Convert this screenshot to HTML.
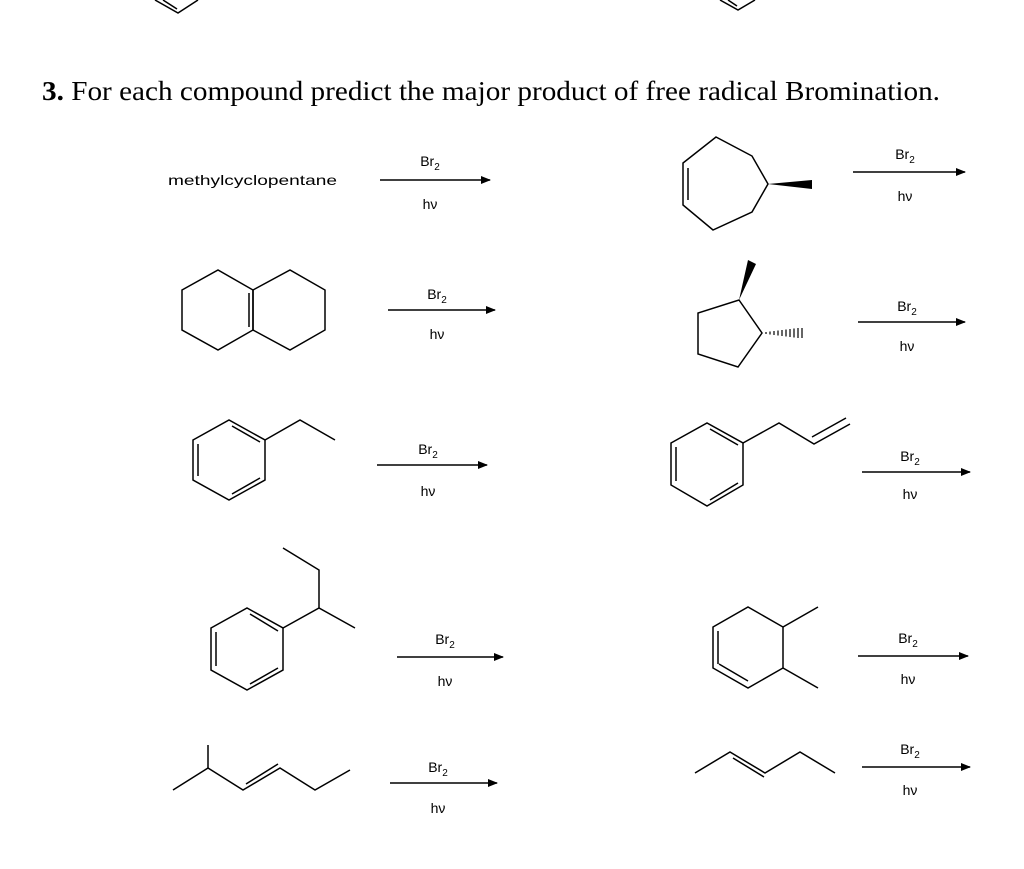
<!DOCTYPE html>
<html><head><style>
html,body{margin:0;padding:0;background:#fff;}
svg{display:block}
.t{font-family:"Liberation Sans",Arial,sans-serif;font-size:14px;fill:#000}
</style></head><body>
<svg width="1024" height="869" viewBox="0 0 1024 869" xmlns="http://www.w3.org/2000/svg">
<defs><marker id="a" markerWidth="10" markerHeight="8" refX="9" refY="4" orient="auto" markerUnits="userSpaceOnUse"><path d="M0,0 L10,4 L0,8 Z" fill="#000"/></marker></defs>
<g stroke="#000" stroke-width="1.5" fill="none">
<polyline points="155,0 178,13 198,0"/><line x1="163" y1="0" x2="177" y2="9"/>
<polyline points="720,0 738,10 755,0"/><line x1="728" y1="0" x2="737" y2="6"/>
<polygon points="716,137 752,156 768,184 752,212 713,230 683,205 683,163"/>
<line x1="688" y1="168" x2="688" y2="200"/>
<polygon points="182,290 218,270 253,290 253,330 218,350 182,330"/>
<polygon points="253,290 290,270 325,290 325,330 290,350 253,330"/>
<line x1="249" y1="293" x2="249" y2="327"/>
<polygon points="739,300 762,333 738,367 698,354 698,313"/>
<polygon points="193,440 229,420 265,440 265,480 229,500 193,480"/>
<line x1="198" y1="444" x2="198" y2="476"/><line x1="232" y1="426" x2="260" y2="442"/><line x1="232" y1="494" x2="260" y2="478"/>
<polyline points="265,440 300,420 335,440"/>
<!-- allylbenzene -->
<polygon points="671,443 707,423 743,443 743,485 707,506 671,485"/>
<line x1="676" y1="447" x2="676" y2="481"/><line x1="710" y1="429" x2="738" y2="445"/><line x1="710" y1="500" x2="738" y2="483"/>
<polyline points="743,443 779,423 814,444 850,424"/>
<line x1="812" y1="437" x2="846" y2="418"/>
<!-- sec-butylbenzene -->
<polygon points="211,628 247,608 283,628 283,670 247,690 211,670"/>
<line x1="216" y1="632" x2="216" y2="666"/><line x1="250" y1="614" x2="278" y2="631"/><line x1="250" y1="684" x2="278" y2="668"/>
<polyline points="283,628 319,608 355,628"/>
<polyline points="319,608 319,570 283,548"/>
<polygon points="713,627 748,607 783,627 783,668 748,688 713,668"/>
<line x1="718" y1="631" x2="718" y2="664"/><line x1="719" y1="664" x2="748" y2="681"/>
<line x1="783" y1="627" x2="818" y2="607"/><line x1="783" y1="668" x2="818" y2="688"/>
<polyline points="173,790 208,768 243,790 280,768 315,790 350,770"/>
<line x1="208" y1="768" x2="208" y2="745"/>
<line x1="246" y1="784" x2="278" y2="764"/>
<polyline points="695,773 730,752 765,773 800,752 835,773"/>
<line x1="733" y1="758" x2="764" y2="777"/>
<line x1="380" y1="180" x2="490" y2="180" marker-end="url(#a)"/>
<line x1="853" y1="172" x2="965" y2="172" marker-end="url(#a)"/>
<line x1="388" y1="310" x2="495" y2="310" marker-end="url(#a)"/>
<line x1="858" y1="322" x2="965" y2="322" marker-end="url(#a)"/>
<line x1="377" y1="465" x2="487" y2="465" marker-end="url(#a)"/>
<line x1="862" y1="472" x2="970" y2="472" marker-end="url(#a)"/>
<line x1="397" y1="657" x2="503" y2="657" marker-end="url(#a)"/>
<line x1="858" y1="656" x2="968" y2="656" marker-end="url(#a)"/>
<line x1="390" y1="783" x2="497" y2="783" marker-end="url(#a)"/>
<line x1="862" y1="767" x2="970" y2="767" marker-end="url(#a)"/>
</g>
<polygon points="768,184 812,180 812,189" fill="#000"/>
<polygon points="739,300 748,260 756,264" fill="#000"/>
<g stroke="#000" stroke-width="1.2">
<line x1="766" y1="332" x2="766" y2="334"/><line x1="770" y1="331.5" x2="770" y2="334.5"/><line x1="774" y1="331" x2="774" y2="335"/><line x1="778" y1="330.5" x2="778" y2="335.5"/><line x1="782" y1="330" x2="782" y2="336"/><line x1="786" y1="329.5" x2="786" y2="336.5"/><line x1="790" y1="329" x2="790" y2="337"/><line x1="794" y1="328.5" x2="794" y2="337.5"/><line x1="798" y1="328" x2="798" y2="338"/><line x1="802" y1="328" x2="802" y2="338"/>
</g>
<text x="42" y="100" font-family="'Liberation Serif',serif" font-size="27" textLength="898" lengthAdjust="spacingAndGlyphs"><tspan font-weight="bold">3.</tspan> For each compound predict the major product of free radical Bromination.</text>
<text class="t" x="168" y="185" font-size="15" textLength="169" lengthAdjust="spacingAndGlyphs">methylcyclopentane</text>
<g class="t" text-anchor="middle">
<text x="430" y="166">Br<tspan font-size="10" dy="4">2</tspan></text><text x="430" y="209">hν</text>
<text x="905" y="159">Br<tspan font-size="10" dy="4">2</tspan></text><text x="905" y="201">hν</text>
<text x="437" y="299">Br<tspan font-size="10" dy="4">2</tspan></text><text x="437" y="339">hν</text>
<text x="907" y="311">Br<tspan font-size="10" dy="4">2</tspan></text><text x="907" y="351">hν</text>
<text x="428" y="454">Br<tspan font-size="10" dy="4">2</tspan></text><text x="428" y="496">hν</text>
<text x="910" y="461">Br<tspan font-size="10" dy="4">2</tspan></text><text x="910" y="499">hν</text>
<text x="445" y="644">Br<tspan font-size="10" dy="4">2</tspan></text><text x="445" y="686">hν</text>
<text x="908" y="643">Br<tspan font-size="10" dy="4">2</tspan></text><text x="908" y="684">hν</text>
<text x="438" y="772">Br<tspan font-size="10" dy="4">2</tspan></text><text x="438" y="813">hν</text>
<text x="910" y="754">Br<tspan font-size="10" dy="4">2</tspan></text><text x="910" y="795">hν</text>
</g>
</svg>
</body></html>
